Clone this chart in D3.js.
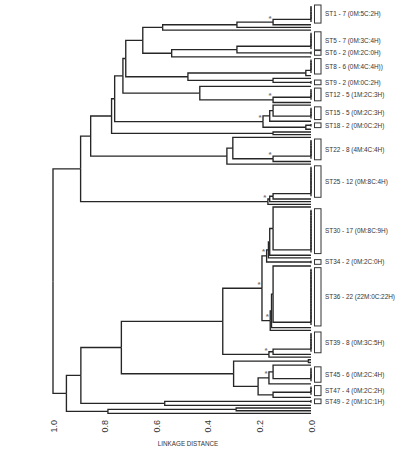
<!DOCTYPE html>
<html>
<head>
<meta charset="utf-8">
<script src="https://cdn.jsdelivr.net/npm/d3@7"></script>
<style>
  body { margin: 0; background: #fff; }
  text { font-family: "Liberation Sans", Arial, sans-serif; }
</style>
</head>
<body>
<svg id="plot" width="415" height="451"></svg>
<script>
// labelled sequence types (groups of identical strains), top to bottom
var groupNames = ["ST1","ST5","ST6","ST8","ST9","ST12","ST15","ST18","ST22","ST25","ST30","ST34","ST36","ST39","ST45","ST47","ST49"];
var groupSizes = [7, 7, 2, 6, 2, 5, 5, 2, 8, 12, 17, 2, 22, 8, 6, 4, 2];
var groupTypes = ["0M:5C:2H","0M:3C:4H","0M:2C:0H","0M:4C:4H)","0M:0C:2H","1M:2C:3H","0M:2C:3H","0M:0C:2H",
                  "4M:4C:4H","0M:8C:4H","0M:8C:9H","0M:2C:0H","22M:0C:22H","0M:3C:5H","0M:2C:4H","0M:2C:2H","0M:1C:1H"];

// merges: [node, upper child, lower child, linkage distance]; names x1..x36 are single strains
var merges = [
  ["a1", "ST1", "x1", 0.147],
  ["a2", "a1", "x2", 0.287],
  ["a3", "a2", "x3", 0.575],
  ["b1", "ST5", "ST6", 0.287],
  ["b2", "b1", "x4", 0.54],
  ["c1", "a3", "b2", 0.652],
  ["d1", "ST8", "x5", 0.02],
  ["d2", "x6", "ST9", 0.147],
  ["d3", "d1", "d2", 0.477],
  ["e1", "c1", "d3", 0.718],
  ["f1", "ST12", "x8", 0.147],
  ["f2", "x7", "f1", 0.431],
  ["e2", "e1", "f2", 0.729],
  ["g1", "x9", "ST15", 0.147],
  ["g2", "g1", "x10", 0.16],
  ["g3", "ST18", "x11", 0.02],
  ["g4", "g2", "g3", 0.186],
  ["e3", "e2", "g4", 0.761],
  ["h1", "x12", "x13", 0.147],
  ["e4", "e3", "h1", 0.773],
  ["i1", "ST22", "x15", 0.147],
  ["i2", "x14", "i1", 0.303],
  ["i3", "i2", "x16", 0.326],
  ["e5", "e4", "i3", 0.854],
  ["j1", "ST25", "x17", 0.147],
  ["j2", "j1", "x18", 0.16],
  ["j3", "j2", "x19", 0.167],
  ["top", "e5", "j3", 0.893],
  ["k1", "x20", "ST30", 0.147],
  ["k2", "k1", "x21", 0.16],
  ["k3", "k2", "x22", 0.165],
  ["k4", "k3", "ST34", 0.172],
  ["l1", "x23", "ST36", 0.147],
  ["l2", "l1", "x24", 0.153],
  ["l3", "l2", "x25", 0.158],
  ["m1", "k4", "l3", 0.19],
  ["n1", "ST39", "x26", 0.147],
  ["n2", "n1", "x27", 0.163],
  ["m2", "m1", "n2", 0.342],
  ["p1", "x28", "x29", 0.01],
  ["p2", "x30", "ST45", 0.147],
  ["p3", "p2", "x31", 0.163],
  ["p4", "ST47", "x32", 0.147],
  ["p5", "p3", "p4", 0.205],
  ["p6", "p1", "p5", 0.3],
  ["m3", "m2", "p6", 0.735],
  ["q1", "ST49", "x33", 0.567],
  ["m4", "m3", "q1", 0.892],
  ["r1", "x34", "x35", 0.29],
  ["r2", "r1", "x36", 0.787],
  ["bottom", "m4", "r2", 0.948],
  ["root", "top", "bottom", 1.0]
];

// nodes marked with an asterisk
var starred = ["a1", "f1", "g4", "i1", "j3", "k4", "l3", "m1", "n2", "p3"];

var ticks = [1.0, 0.8, 0.6, 0.4, 0.2, 0.0];

var svg = d3.select("#plot");

// build the tree; a group becomes a chain of identical strains joined at 0
var nodes = {};
function leafNode(name) {
  var gi = groupNames.indexOf(name);
  if (gi < 0) return {name: name, h: 0};
  var n = {name: name + "_1", h: 0};
  for (var k = 2; k <= groupSizes[gi]; k++) {
    n = {name: name + "_c" + k, h: 0, children: [n, {name: name + "_" + k, h: 0}]};
  }
  n.group = gi;
  return n;
}
function get(name) { return nodes[name] || leafNode(name); }
merges.forEach(function(m) {
  nodes[m[0]] = {name: m[0], h: m[3], children: [get(m[1]), get(m[2])]};
});

var root = d3.hierarchy(nodes.root);
var leaves = root.leaves();

var x = d3.scaleLinear().domain([1, 0]).range([53, 311]);
var y = d3.scaleLinear().domain([0, leaves.length - 1]).range([6, 413.4]);

leaves.forEach(function(d, i) { d.y = y(i); });
root.eachAfter(function(d) {
  d.x = x(d.data.h);
  if (d.children) d.y = (d.children[0].y + d.children[1].y) / 2;
});

// elbow links
var links = root.links();
svg.append("g")
  .selectAll("path")
  .data(links)
  .enter()
  .append("path")
  .attr("d", function(l) {
    return "M" + l.target.x + "," + l.target.y + "H" + l.source.x + "V" + l.source.y;
  })
  .style("fill", "none")
  .style("stroke", "#262626")
  .style("stroke-width", 1.35);

// asterisks
svg.append("g")
  .selectAll("text")
  .data(root.descendants().filter(function(d) { return starred.indexOf(d.data.name) >= 0; }))
  .enter()
  .append("text")
  .attr("x", function(d) { return d.x - 3; })
  .attr("y", function(d) { return d.y - 1.5; })
  .attr("text-anchor", "middle")
  .style("font-size", "8px")
  .style("font-weight", "bold")
  .style("fill", "#777")
  .text("*");

// group boxes and labels
var groups = root.descendants().filter(function(d) { return d.data.group !== undefined; });
var gbox = svg.append("g").selectAll("g").data(groups).enter().append("g");
gbox.append("rect")
  .attr("x", 314.5)
  .attr("width", 6.5)
  .attr("y", function(d) { var lv = d.leaves(); return lv[0].y - 1; })
  .attr("height", function(d) { var lv = d.leaves(); return lv[lv.length - 1].y - lv[0].y + 2; })
  .style("fill", "#fff")
  .style("stroke", "#333")
  .style("stroke-width", 1);
gbox.append("text")
  .attr("x", 325)
  .attr("y", function(d) { var lv = d.leaves(); return (lv[0].y + lv[lv.length - 1].y) / 2; })
  .attr("dy", "0.35em")
  .style("font-size", "6.4px")
  .style("fill", "#333")
  .text(function(d) {
    var i = d.data.group;
    return groupNames[i] + " - " + groupSizes[i] + " (" + groupTypes[i] + ")";
  });

// axis (labels only, rotated)
var axis = svg.append("g")
  .attr("transform", "translate(0,418)")
  .call(d3.axisBottom(x).tickValues(ticks).tickFormat(d3.format(".1f")).tickSize(0));
axis.select(".domain").remove();
axis.selectAll("text")
  .attr("transform", "rotate(-90)")
  .attr("x", -2)
  .attr("y", 0)
  .attr("dy", "0.35em")
  .attr("text-anchor", "end")
  .style("font-family", "'Liberation Sans', Arial, sans-serif")
  .style("font-size", "9px")
  .style("fill", "#333");

svg.append("text")
  .attr("x", 188)
  .attr("y", 446)
  .attr("text-anchor", "middle")
  .style("font-size", "6.3px")
  .style("fill", "#333")
  .text("LINKAGE DISTANCE");
</script>
</body>
</html>
